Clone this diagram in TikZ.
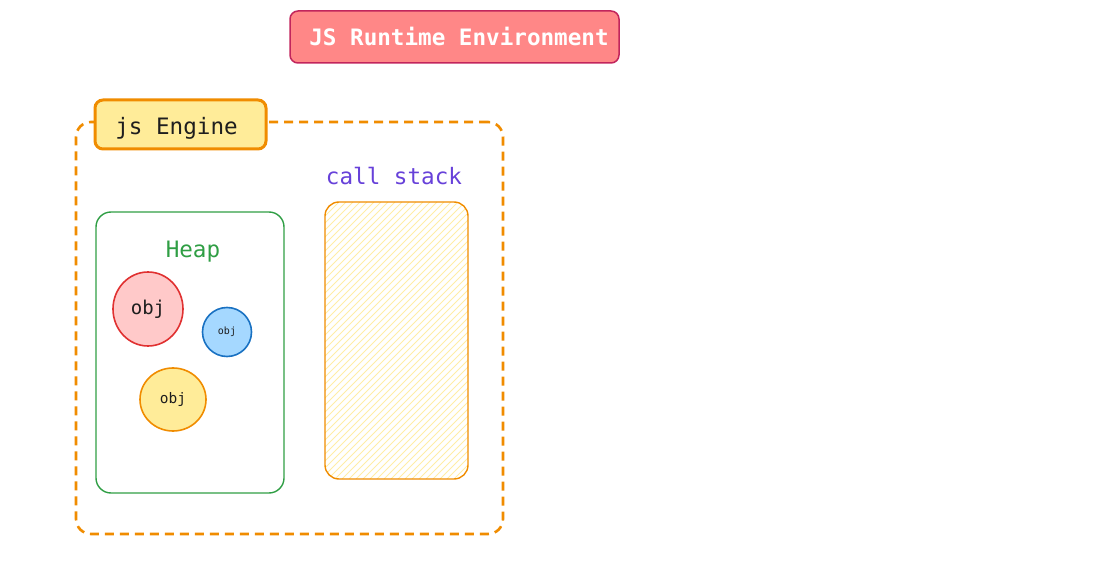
\documentclass[tikz,border=0pt]{standalone}
\usepackage{fontspec}
\setmonofont{DejaVu Sans Mono}
\usetikzlibrary{shapes.geometric}
\definecolor{exred}{HTML}{E03131}
\definecolor{exredl}{HTML}{FFC9C9}
\definecolor{exblue}{HTML}{1971C2}
\definecolor{exbluel}{HTML}{A5D8FF}
\definecolor{exorange}{HTML}{F08C00}
\definecolor{exyellow}{HTML}{FFEC99}
\definecolor{exgreen}{HTML}{2F9E44}
\definecolor{expurple}{HTML}{6741D9}
\definecolor{expink}{HTML}{FF8787}
\definecolor{expinkd}{HTML}{C2255C}
\definecolor{exink}{HTML}{1E1E1E}
\definecolor{hatchc}{HTML}{FFEDA6}
\tikzset{
  boxnode/.style={draw, rounded corners=8pt, inner sep=0pt, outer sep=0pt},
  monofont/.style={font=\ttfamily\fontsize{22.6}{27}\selectfont},
  objnode/.style={ellipse, draw, line width=1.6pt, inner sep=0pt, text=exink},
}
\begin{document}
\begin{tikzpicture}[x=1pt,y=-1pt]
\useasboundingbox (0,0) rectangle (1108,569);
% title
\node[boxnode, fill=expink, draw=expinkd, line width=1.5pt, minimum width=329pt, minimum height=52pt, text=white, font=\ttfamily\bfseries\fontsize{22.6}{27}\selectfont] (title) at (454.5,37) {\raisebox{1.5pt}{\hspace*{9pt}JS Runtime Environment}};
% outer dashed engine box
\node[draw=exorange, dashed, dash pattern=on 9pt off 6pt, line width=2.6pt, rounded corners=15pt, minimum width=427pt, minimum height=412pt, inner sep=0pt] (engine) at (289.5,328) {};
% js Engine label
\node[boxnode, fill=exyellow, draw=exorange, line width=3pt, minimum width=171pt, minimum height=49pt, monofont, text=exink] (englabel) at (180.5,124.5) {\raisebox{-10pt}[0pt][0pt]{\hspace*{-8pt}js Engine}};
% call stack label
\node[monofont, text=expurple] (cslabel) at (394,176) {call stack};
% heap box
\node[draw=exgreen, line width=1.4pt, rounded corners=15pt, minimum width=188pt, minimum height=281pt, inner sep=0pt] (heap) at (190,352.5) {};
\node[monofont, text=exgreen] (heaplabel) at (193,251.5) {Heap};
% call stack box with hatch
\begin{scope}
  \clip[rounded corners=14pt] (325,202) rectangle (468,479);
  \foreach \i in {48,55,...,475}
    \draw[hatchc, line width=1pt] (\i,479) -- ++(277,-277);
\end{scope}
\node[draw=exorange, line width=1.4pt, rounded corners=14pt, minimum width=143pt, minimum height=277pt, inner sep=0pt] (stack) at (396.5,340.5) {};
% objects
\node[objnode, fill=exredl, draw=exred, minimum width=70pt, minimum height=74pt, font=\ttfamily\fontsize{19}{22}\selectfont] (obj1) at (148,309) {obj};
\node[objnode, fill=exbluel, draw=exblue, minimum width=49pt, minimum height=49pt, font=\ttfamily\fontsize{10}{12}\selectfont] (obj2) at (227,332) {obj};
\node[objnode, fill=exyellow, draw=exorange, minimum width=66pt, minimum height=63pt, font=\ttfamily\fontsize{14.5}{17}\selectfont] (obj3) at (173,399.5) {obj};
\end{tikzpicture}
\end{document}
